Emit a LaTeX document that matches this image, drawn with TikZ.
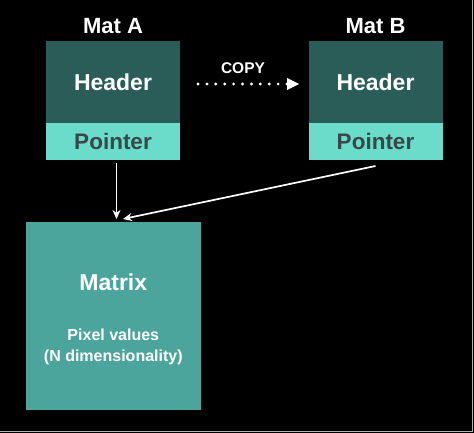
\documentclass[tikz,border=0pt]{standalone}
\usepackage{fontspec}
\setmainfont{Liberation Sans}
\usetikzlibrary{arrows.meta}
\definecolor{hdr}{HTML}{2A5C58}
\definecolor{ptr}{HTML}{6BDCCA}
\definecolor{ptrtxt}{HTML}{37474A}
\definecolor{mtx}{HTML}{4BA59D}
\tikzset{
  hdrbox/.style={fill=hdr, draw=none, minimum width=134pt, minimum height=82pt, inner sep=0pt, text=white, font=\bfseries\fontsize{23}{26}\selectfont},
  ptrbox/.style={fill=ptr, draw=none, minimum width=134pt, minimum height=37pt, inner sep=0pt, text=ptrtxt, font=\bfseries\fontsize{22.5}{26}\selectfont},
  title/.style={text=white, font=\bfseries\fontsize{22}{26}\selectfont, inner sep=0pt},
  link/.style={draw=white, line width=1.7pt, -{Stealth[length=9pt,width=8pt]}},
}
\begin{document}
\begin{tikzpicture}[x=1pt,y=-1pt]
\fill[black] (0,0) rectangle (474,433);
\useasboundingbox (0,0) rectangle (474,433);
\draw[gray!60, line width=1pt] (0,431) -- (472.5,431) -- (472.5,0);
% Mat A
\node[title] (ta) at (113,26) {Mat A};
\node[hdrbox] (ha) at (113,82) {Header};
\node[ptrbox] (pa) at (113,141.5) {Pointer};
% Mat B
\node[title] (tb) at (375.5,26) {Mat B};
\node[hdrbox] (hb) at (375.5,82) {Header};
\node[ptrbox] (pb) at (375.5,141.5) {Pointer};
% Matrix
\node[fill=mtx, draw=none, minimum width=175pt, minimum height=188pt, inner sep=0pt] (m) at (113.3,316) {};
\node[text=white, font=\bfseries\fontsize{23}{26}\selectfont, inner sep=0pt] (mt) at (113.3,282) {Matrix};
\node[text=white, font=\bfseries\fontsize{16}{21}\selectfont, align=center, inner sep=0pt] (pv) at (113.3,347) {Pixel values\\(N dimensionality)};
% copy arrow
\node[text=white, font=\bfseries\fontsize{15.5}{18}\selectfont, inner sep=0pt] (cp) at (243,68) {COPY};
\coordinate (c1) at (198,84);
\coordinate (c2) at (287,84);
\coordinate (c3) at (299,84);
\draw[white, line width=3.2pt, line cap=round, dash pattern=on 0pt off 8.9pt] (c1) -- (c2);
\draw[white, line width=0pt, -{Triangle[length=12pt,width=12pt]}] (c2) -- (c3);
% pointer arrows
\coordinate (a1) at (116.5,163);
\coordinate (a2) at (116.5,219);
\draw[link] (a1) -- (a2);
\coordinate (b1) at (375.5,166);
\coordinate (b2) at (123,219);
\draw[link] (b1) -- (b2);
\end{tikzpicture}
\end{document}
